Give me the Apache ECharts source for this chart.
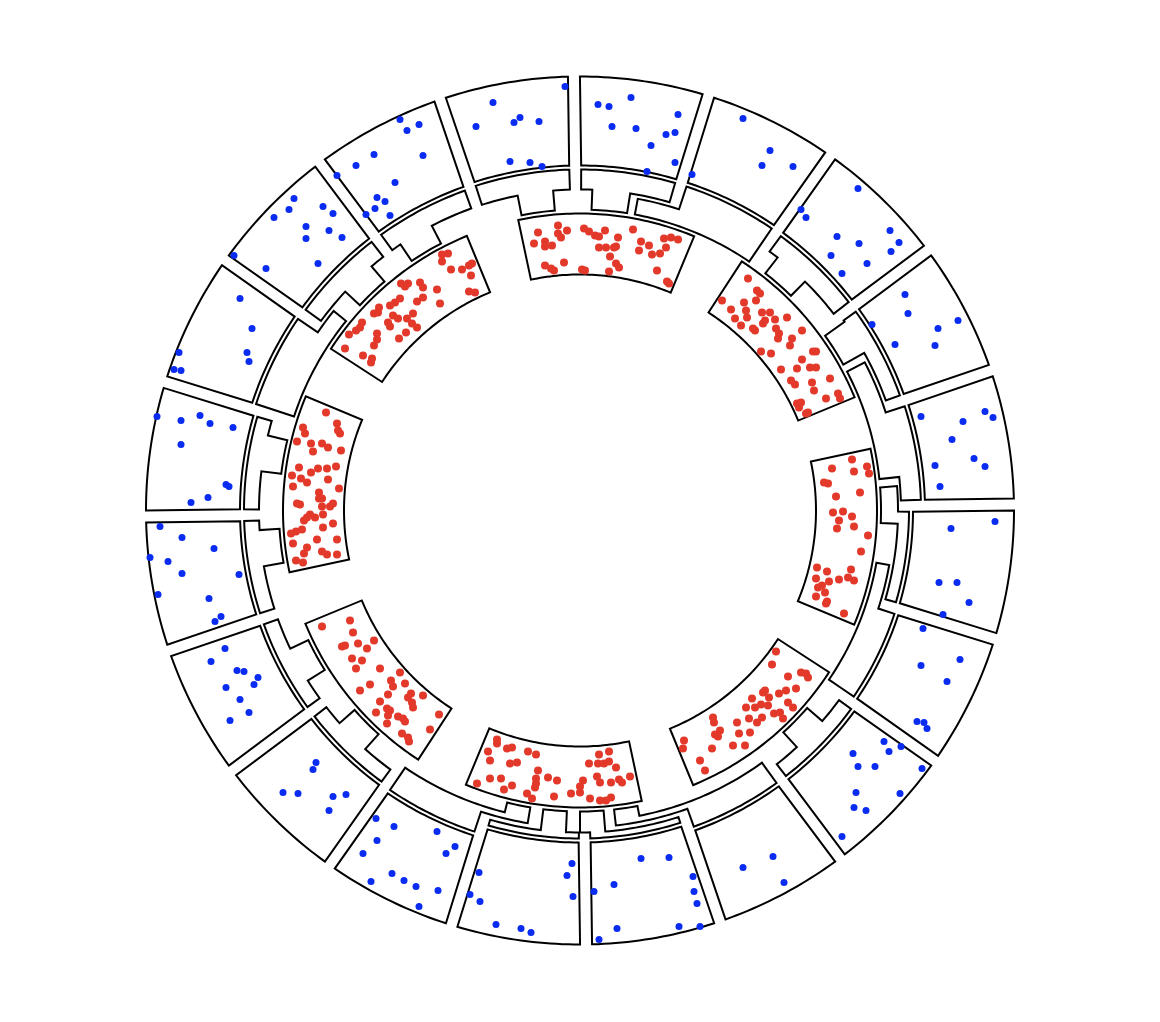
<!DOCTYPE html>
<html><head><meta charset="utf-8">
<script src="https://cdn.jsdelivr.net/npm/echarts/dist/echarts.min.js"></script>
<style>html,body{margin:0;padding:0;background:#fff}#c{width:1160px;height:1022px}</style>
</head><body><div id="c"></div>
<script>
// ---------------- DATA ----------------
// outer groups (20), each with its blue points as [dx, dy] offsets from the ring centre
const outerGroups = ['o1','o2','o3','o4','o5','o6','o7','o8','o9','o10','o11','o12','o13','o14','o15','o16','o17','o18','o19','o20'];
// parent inner group of each outer group (index into innerGroups)
const outerParent = [0,0,1,1,1,2,2,3,4,4,4,4,5,5,6,6,7,7,7,0];
const bluePoints = [
 [[18,-406],[29,-404],[51,-413],[98,-396],[32,-384],[56,-382],[86,-376],[95,-378],[71,-365],[95,-348],[67,-339]],
 [[163,-392],[190,-360],[182,-345],[213,-344],[112,-336]],
 [[278,-322],[221,-301],[226,-293],[257,-274],[310,-280],[319,-268],[279,-267],[311,-259],[251,-255],[287,-247],[262,-237]],
 [[325,-216],[328,-197],[292,-186],[358,-182],[378,-190],[315,-166],[355,-165]],
 [[341,-94],[383,-89],[405,-99],[413,-93],[372,-71],[394,-52],[405,-44],[355,-45],[360,-24]],
 [[415,11],[371,18],[359,72],[377,72],[389,92],[363,104]],
 [[343,118],[380,149],[341,155],[367,171],[337,211],[344,212],[347,218]],
 [[273,243],[304,231],[309,241],[321,236],[342,258],[278,256],[295,256],[276,282],[320,283],[274,297],[286,300],[262,326]],
 [[163,357],[193,346],[204,372]],
 [[61,348],[89,347],[113,366],[114,381],[117,393],[34,374],[14,381],[37,418],[19,429],[99,416],[120,416]],
 [[-8,353],[-13,365],[-101,362],[-110,384],[-100,391],[-7,386],[-84,414],[-59,418],[-49,422]],
 [[-204,308],[-186,316],[-143,321],[-203,330],[-125,336],[-134,343],[-217,343],[-188,363],[-176,370],[-164,376],[-142,380],[-209,371],[-161,396]],
 [[-297,282],[-282,283],[-264,252],[-267,259],[-247,286],[-234,284],[-251,300]],
 [[-355,138],[-369,151],[-343,160],[-336,161],[-322,167],[-326,174],[-354,177],[-340,189],[-331,202],[-350,210]],
 [[-420,16],[-398,27],[-430,47],[-412,51],[-366,38],[-398,63],[-341,64],[-422,84],[-371,88],[-359,106],[-365,111]],
 [[-423,-94],[-399,-90],[-380,-95],[-370,-87],[-347,-83],[-399,-66],[-354,-26],[-351,-24],[-372,-13],[-389,-8]],
 [[-340,-212],[-328,-182],[-333,-158],[-331,-149],[-401,-158],[-406,-141],[-399,-140]],
 [[-286,-312],[-291,-301],[-306,-293],[-257,-304],[-247,-297],[-274,-284],[-251,-280],[-238,-273],[-274,-272],[-262,-247],[-314,-242],[-346,-255]],
 [[-180,-391],[-161,-386],[-173,-380],[-206,-356],[-224,-345],[-157,-355],[-243,-335],[-185,-328],[-203,-313],[-195,-309],[-205,-302],[-214,-296],[-190,-295]],
 [[-87,-408],[-15,-424],[-104,-384],[-66,-388],[-60,-393],[-41,-389],[-70,-349],[-50,-348],[-38,-344]]
];
const innerGroups = ['i1','i2','i3','i4','i5','i6','i7','i8'];
const redPoints = [
 [[-22,-285],[-42,-278],[-13,-280],[-22,-277],[-19,-273],[-46,-267],[-35,-269],[-28,-265],[-35,-264],[4,-282],[9,-279],[15,-275],[19,-274],[25,-280],[38,-273],[53,-281],[61,-269],[69,-265],[84,-272],[91,-273],[98,-271],[19,-263],[26,-263],[34,-263],[36,-264],[30,-254],[59,-260],[72,-256],[80,-257],[86,-263],[-16,-248],[-35,-245],[-29,-242],[-26,-240],[2,-241],[5,-240],[29,-239],[36,-247],[39,-243],[77,-240],[87,-229],[89,-227]],
 [[168,-232],[177,-220],[180,-217],[176,-210],[164,-208],[166,-200],[167,-193],[182,-198],[190,-198],[195,-191],[207,-193],[185,-190],[183,-187],[173,-182],[175,-180],[196,-182],[199,-177],[198,-172],[222,-180],[212,-172],[210,-165],[181,-159],[191,-157],[222,-151],[233,-159],[236,-159],[230,-143],[236,-143],[201,-141],[217,-142],[211,-130],[215,-126],[234,-120],[250,-132],[232,-128],[246,-112],[258,-117],[260,-112],[217,-107],[221,-108],[219,-103],[226,-97],[228,-98],[142,-210],[151,-201],[155,-192],[161,-185]],
 [[272,-51],[252,-42],[274,-39],[287,-44],[289,-37],[244,-28],[248,-27],[280,-18],[256,-14],[253,2],[263,1],[272,6],[259,10],[257,18],[274,16],[288,25],[281,41],[237,57],[247,61],[271,59],[236,68],[249,71],[259,69],[268,67],[274,70],[238,77],[242,75],[245,82],[236,86],[247,91],[246,93],[264,103]],
 [[196,141],[192,154],[208,166],[221,162],[226,163],[228,167],[216,178],[199,183],[206,180],[183,182],[189,187],[172,188],[175,197],[182,207],[200,202],[203,208],[208,192],[169,208],[157,212],[159,223],[140,220],[133,207],[135,224],[165,235],[132,238],[120,250],[125,260],[104,230],[103,238],[188,195],[170,222],[153,235],[185,180],[134,212],[138,226],[177,212],[194,203],[213,197],[181,194],[166,197]],
 [[-83,229],[-83,233],[-92,241],[-90,250],[-73,238],[-68,237],[-52,241],[-44,244],[-70,253],[-63,252],[-42,260],[-103,273],[-90,268],[-79,268],[-76,279],[-68,275],[-44,268],[-44,273],[-45,277],[-32,267],[-23,270],[-53,283],[-48,288],[-26,286],[-9,283],[0,276],[0,282],[3,270],[10,288],[9,253],[19,244],[29,241],[18,253],[24,253],[29,251],[36,257],[17,266],[20,272],[31,272],[39,269],[42,272],[50,266],[20,290],[26,290],[31,287]],
 [[-192,184],[-200,191],[-172,187],[-168,192],[-157,185],[-193,198],[-190,200],[-204,202],[-192,205],[-182,206],[-177,208],[-175,211],[-167,197],[-193,213],[-178,223],[-172,227],[-171,231],[-150,219],[-141,204],[-258,116],[-230,110],[-227,122],[-235,135],[-222,133],[-213,138],[-228,148],[-218,150],[-206,130],[-200,158],[-189,170],[-180,162],[-187,176],[-175,173],[-169,183],[-210,174],[-220,180],[-238,136],[-224,158]],
 [[-254,-98],[-243,-87],[-277,-83],[-275,-77],[-242,-80],[-240,-77],[-283,-69],[-269,-67],[-258,-67],[-252,-63],[-267,-59],[-239,-60],[-281,-43],[-269,-38],[-262,-42],[-253,-42],[-244,-44],[-288,-35],[-279,-32],[-273,-28],[-252,-31],[-287,-24],[-241,-22],[-261,-18],[-261,-12],[-258,-12],[-283,-7],[-280,-6],[-258,-4],[-250,-4],[-247,-7],[-270,4],[-273,7],[-265,7],[-257,4],[-276,10],[-247,13],[-257,17],[-278,19],[-284,21],[-289,23],[-263,29],[-243,29],[-287,33],[-273,37],[-276,43],[-258,41],[-253,44],[-243,44],[-284,50],[-277,52]],
 [[-138,-256],[-132,-257],[-138,-249],[-129,-241],[-118,-241],[-111,-245],[-108,-247],[-109,-235],[-111,-219],[-105,-218],[-140,-207],[-143,-221],[-160,-228],[-157,-223],[-175,-224],[-172,-227],[-179,-227],[-157,-213],[-163,-209],[-185,-208],[-180,-212],[-190,-205],[-201,-203],[-202,-198],[-206,-197],[-187,-195],[-182,-192],[-192,-188],[-190,-184],[-173,-192],[-168,-187],[-167,-197],[-163,-183],[-174,-178],[-218,-188],[-220,-183],[-224,-180],[-231,-176],[-203,-177],[-203,-171],[-181,-172],[-235,-162],[-217,-155],[-208,-152],[-206,-165],[-209,-148]]
];

// ---------------- LAYOUT ----------------
const ROT = -0.8;             // angular offset of outer boundaries (deg, clockwise from north)
const OUTER_R = 434;
const cellInnerR = [345,345,344,344,345,333,335,340,340,332,332,342,340,340,340,340,345,344,344,345];
const RED_R0 = 236, RED_R1 = 297, RED_START = -12, RED_SPAN = 34.6;
// link shapes: stacked levels [a0, a1, r0, r1] (deg, radius), bottom to top; 'T' = just under the cell
const linkLevels = [
 [[2.2,9,301,321],[0.2,16.2,321,'T']],
 [[10.5,34.2,301,317],[18.2,34.2,317,'T']],
 [[38,44.5,301,321],[36.2,52.2,321,'T']],
 [[54.5,61,301,325],[54.2,70.2,325,'T']],
 [[62.5,84,301,321],[72.2,88.2,321,'T']],
 [[85.6,92.4,301,318],[90.2,106.2,318,'T']],
 [[100,124.2,301,314],[108.2,124.2,314,'T']],
 [[131,137.5,301,321],[126.2,142.2,321,'T']],
 [[169,173.5,301,311],[144.2,173.5,311,317],[144.2,160.2,317,'T']],
 [[175.5,180,301,322],[162.2,178.2,322,'T']],
 [[182.5,187,301,322],[180.2,196.2,322,'T']],
 [[189.5,194,301,311],[189.5,214.2,311,317],[198.2,214.2,317,'T']],
 [[222,228.5,301,321],[216.2,232.2,321,'T']],
 [[238,244.5,301,321],[234.2,250.2,321,'T']],
 [[260,266.5,301,321],[252.2,268.2,321,'T']],
 [[277,283.5,301,321],[270.2,286.2,321,'T']],
 [[288.2,309,301,317],[288.2,304.2,317,'T']],
 [[313,319.5,301,321],[306.2,322.2,321,'T']],
 [[326,332.5,301,321],[324.2,340.2,321,'T']],
 [[-11.2,-4.8,301,321],[-17.8,-1.8,321,'T']]
];

function polar(r, th) { const a = th * Math.PI / 180; return [r * Math.sin(a), -r * Math.cos(a)]; }
function arc(r, t0, t1) {
  const n = Math.max(1, Math.ceil(Math.abs(t1 - t0) / 0.8)); const pts = [];
  for (let i = 0; i <= n; i++) pts.push(polar(r, t0 + (t1 - t0) * i / n));
  return pts;
}
function outerCellShape(k) {
  const b0 = k * 18 + ROT, b1 = (k + 1) * 18 + ROT, rin = cellInnerR[k], h = 6;
  const d = r => Math.asin(h / r) * 180 / Math.PI;
  return arc(OUTER_R, b0 + d(OUTER_R), b1 - d(OUTER_R)).concat(arc(rin, b1 - d(rin), b0 + d(rin)));
}
function innerCellShape(k) {
  const a0 = RED_START + 45 * k, a1 = a0 + RED_SPAN;
  return arc(RED_R1, a0, a1).concat(arc(RED_R0, a1, a0));
}
function linkShape(k) {
  const lv = linkLevels[k].map(l => [l[0], l[1], l[2], l[3] === 'T' ? cellInnerR[k] - 4 : l[3]]);
  const v = [];
  lv.forEach(l => { v.push([l[0], l[2]]); v.push([l[0], l[3]]); });
  for (let i = lv.length - 1; i >= 0; i--) { v.push([lv[i][1], lv[i][3]]); v.push([lv[i][1], lv[i][2]]); }
  const pts = [];
  for (let i = 0; i < v.length; i++) {
    const a = v[i], b = v[(i + 1) % v.length];
    if (a[1] === b[1]) { const s = arc(a[1], a[0], b[0]); s.pop(); pts.push(...s); }
    else pts.push(polar(a[1], a[0]));
  }
  return pts;
}
const shapes = [];
outerGroups.forEach((g, k) => shapes.push(linkShape(k)));
outerGroups.forEach((g, k) => shapes.push(outerCellShape(k)));
innerGroups.forEach((g, k) => shapes.push(innerCellShape(k)));

const chart = echarts.init(document.getElementById('c'), null, { renderer: 'canvas' });
chart.setOption({
  animation: false,
  backgroundColor: '#ffffff',
  grid: { left: 140, top: 70.5, width: 880, height: 880 },
  xAxis: { type: 'value', min: -440, max: 440, show: false },
  yAxis: { type: 'value', min: -440, max: 440, inverse: true, show: false },
  series: [
    {
      type: 'custom', clip: false, z: 1,
      data: shapes.map((s, i) => [0, 0, i]),
      renderItem: function (params, api) {
        const pts = shapes[params.dataIndex].map(p => api.coord(p));
        return { type: 'polygon', shape: { points: pts }, style: { fill: '#ffffff', stroke: '#000000', lineWidth: 2 } };
      }
    },
    { type: 'scatter', z: 3, symbolSize: 7, itemStyle: { color: '#0a2cf2', opacity: 1 }, data: bluePoints.flat() },
    { type: 'scatter', z: 3, symbolSize: 8, itemStyle: { color: '#e3392b', opacity: 1 }, data: redPoints.flat() }
  ]
});
</script></body></html>
